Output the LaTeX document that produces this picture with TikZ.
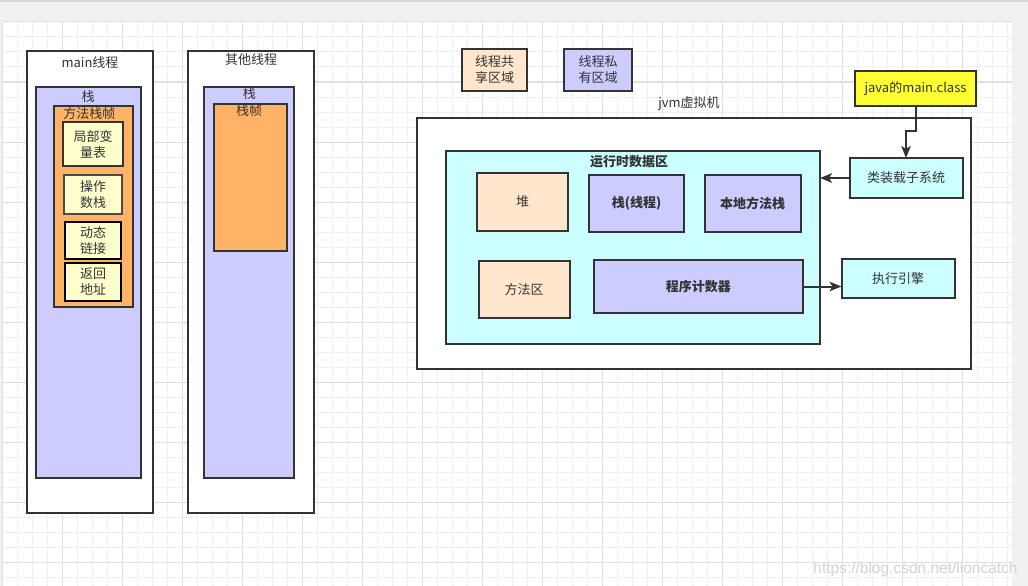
\documentclass[tikz,border=0pt]{standalone}
\usepackage{fontspec}
\setmainfont{Noto Sans CJK SC}
\newfontfamily\wmfont{Liberation Sans}
\usetikzlibrary{arrows.meta}
\definecolor{ln}{HTML}{333333}
\definecolor{ln2}{HTML}{4A4A4A}
\definecolor{txt}{HTML}{333333}
\definecolor{lilac}{HTML}{CCCCFF}
\definecolor{orng}{HTML}{FFB366}
\definecolor{cream}{HTML}{FFFFCC}
\definecolor{peach}{HTML}{FFE6CC}
\definecolor{cyanf}{HTML}{CCFFFF}
\definecolor{yel}{HTML}{FFFF33}
\definecolor{gridmin}{HTML}{F0F0F0}
\definecolor{gridmaj}{HTML}{E0E0E0}
\definecolor{bgray}{HTML}{F1F1F1}
\definecolor{topln}{HTML}{D6D6DB}
\definecolor{wmc}{HTML}{D4D4D4}
\begin{document}
\begin{tikzpicture}[x=1pt,y=-1pt,
  box/.style={draw=ln, line width=2pt, rectangle, inner sep=0pt, outer sep=0pt,
    font=\fontsize{13}{16}\selectfont, text=txt, align=center},
  lbl/.style={font=\fontsize{13}{16}\selectfont, text=txt, inner sep=0pt},
  arr/.style={draw=ln, line width=2pt, -{Stealth[length=12pt,width=9.5pt,inset=3pt]}}]
\useasboundingbox (0,0) rectangle (1028,586);
% background and grid
\fill[bgray] (0,0) rectangle (1028,586);
\fill[topln] (0,0) rectangle (1028,2);
\fill[white] (2,22) rectangle (1012,586);
\foreach \x in {2,17,...,1012} \draw[gridmin, line width=1pt] (\x,22) -- (\x,586);
\foreach \y in {22,37,...,586} \draw[gridmin, line width=1pt] (2,\y) -- (1012,\y);
\foreach \x in {2,62,...,1012} \draw[gridmaj, line width=1pt] (\x,22) -- (\x,586);
\foreach \y in {22,82,...,586} \draw[gridmaj, line width=1pt] (2,\y) -- (1012,\y);

% main thread
\node[box, fill=white, minimum width=126, minimum height=462] (mainT) at (90,282) {};
\node[lbl] (mainTL) at (90,62.7) {main线程};
\node[box, fill=lilac, minimum width=105, minimum height=391] (mainS) at (88.5,282.5) {};
\node[lbl] (mainSL) at (88,96.7) {栈};
\node[box, fill=orng, minimum width=79, minimum height=201] (mframe) at (93.5,206.5) {};
\node[lbl] (mframeL) at (89.3,113.3) {方法栈帧};
\node[box, fill=cream, line width=2.5pt, minimum width=60, minimum height=44] (lv) at (93,144) {局部变\\量表};
\node[box, fill=cream, draw=ln2, minimum width=58, minimum height=39] (ops) at (93,194.5) {操作\\数栈};
\node[box, fill=cream, draw=black, line width=2.5pt, minimum width=56, minimum height=37] (dyn) at (93,240.5) {动态\\链接};
\node[box, fill=cream, draw=black, line width=2.5pt, minimum width=56, minimum height=38] (ret) at (93,282) {返回\\地址};

% other thread
\node[box, fill=white, minimum width=126, minimum height=462] (othT) at (251,282) {};
\node[lbl] (othTL) at (251,60) {其他线程};
\node[box, fill=lilac, minimum width=90, minimum height=391] (othS) at (249,282.5) {};
\node[lbl] (othSL) at (249.3,93.3) {栈};
\node[box, fill=orng, minimum width=73, minimum height=147] (othF) at (250.5,177.5) {};
\node[lbl] (othFL) at (249,111) {栈帧};

% legend
\node[box, fill=peach, minimum width=65, minimum height=42] (leg1) at (494.5,70) {线程共\\享区域};
\node[box, fill=lilac, minimum width=68, minimum height=42] (leg2) at (598,70) {线程私\\有区域};

% jvm
\node[box, fill=yel, line width=2.5pt, minimum width=121, minimum height=35] (java) at (915.5,88.5) {java的main.class};
\node[box, fill=white, minimum width=554, minimum height=251] (jvm) at (694,243.5) {};
\node[lbl] (jvmL) at (689,104) {jvm虚拟机};
\node[box, fill=cyanf, minimum width=374, minimum height=193] (rda) at (633,247.5) {};
\node[lbl, font=\fontsize{13}{16}\selectfont\bfseries] (rdaL) at (629,162) {运行时数据区};
\node[box, fill=peach, minimum width=91, minimum height=58] (heap) at (522.5,202) {堆};
\node[box, fill=lilac, minimum width=95, minimum height=57, font=\fontsize{13}{16}\selectfont\bfseries] (stk) at (636.5,203.5) {栈(线程)};
\node[box, fill=lilac, minimum width=96, minimum height=57, font=\fontsize{13}{16}\selectfont\bfseries] (nat) at (752.5,203.5) {本地方法栈};
\node[box, fill=peach, minimum width=91, minimum height=57] (meth) at (524,289.5) {方法区};
\node[box, fill=lilac, minimum width=209, minimum height=53, font=\fontsize{13}{16}\selectfont\bfseries] (pc) at (698.3,286.5) {程序计数器};
\node[box, fill=cyanf, minimum width=113, minimum height=40] (cls) at (906,178) {类装载子系统};
\node[box, fill=cyanf, minimum width=113, minimum height=39] (exec) at (898,278.5) {执行引擎};

% connectors
\coordinate (bend) at (915.5,131);
\draw[arr] (java.south) -- (bend) -| (cls.north);
\draw[arr] (cls.west) -- (cls.west -| rda.east);
\draw[arr] (pc.east) -- (pc.east -| exec.west);

% watermark
\node[font=\wmfont\fontsize{15.5}{18}\selectfont, text=wmc, inner sep=0pt] (wm) at (915.5,569) {https://blog.csdn.net/lioncatch};
\end{tikzpicture}
\end{document}
